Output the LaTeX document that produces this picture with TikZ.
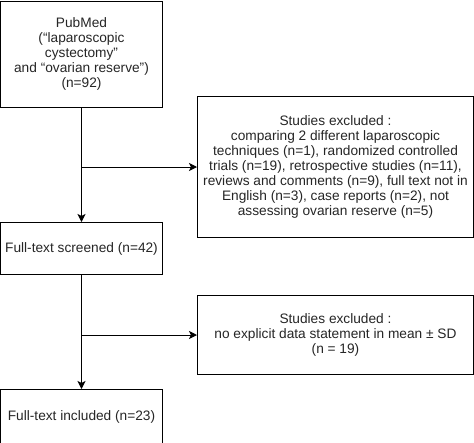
\documentclass[tikz,border=0pt]{standalone}
\usepackage{fontspec}
\setmainfont{Liberation Sans}
\usetikzlibrary{arrows.meta}
\definecolor{txt}{HTML}{262626}
\tikzset{
  box/.style={draw=black, line width=1pt, fill=white, anchor=north west, align=center,
    inner sep=1pt, text=txt, font=\fontsize{13.7}{14.9}\selectfont},
  conn/.style={draw=black, line width=1pt, -{Stealth[length=8pt,width=8pt,inset=2pt]}}
}
\begin{document}
\begin{tikzpicture}[x=1pt,y=-1pt]
\useasboundingbox (0,0) rectangle (474,442);
\fill[white] (0,0) rectangle (474,442);
\node[box, minimum width=162pt, minimum height=106.5pt] (b1) at (0,0.5)
  {PubMed\\(“laparoscopic\\cystectomy”\\and “ovarian reserve”)\\(n=92)};
\node[box, minimum width=276pt, minimum height=141pt] (b2) at (197,96)
  {Studies excluded :\\comparing 2 different laparoscopic\\techniques (n=1), randomized controlled\\trials (n=19), retrospective studies (n=11),\\reviews and comments (n=9), full text not in\\English (n=3), case reports (n=2), not\\assessing ovarian reserve (n=5)};
\node[box, minimum width=162pt, minimum height=52pt] (b3) at (0,222)
  {Full-text screened (n=42)};
\node[box, minimum width=276pt, minimum height=79pt] (b4) at (197,295)
  {Studies excluded :\\no explicit data statement in mean ± SD\\(n = 19)};
\node[box, minimum width=162pt, minimum height=54pt] (b5) at (0,389)
  {Full-text included (n=23)};
\coordinate (j1) at (b1.south |- b2.west);
\coordinate (j2) at (b3.south |- b4.west);
\draw[conn] (b1.south) -- (b3.north);
\draw[conn] (j1) -- (b2.west);
\draw[conn] (b3.south) -- (b5.north);
\draw[conn] (j2) -- (b4.west);
\end{tikzpicture}
\end{document}
